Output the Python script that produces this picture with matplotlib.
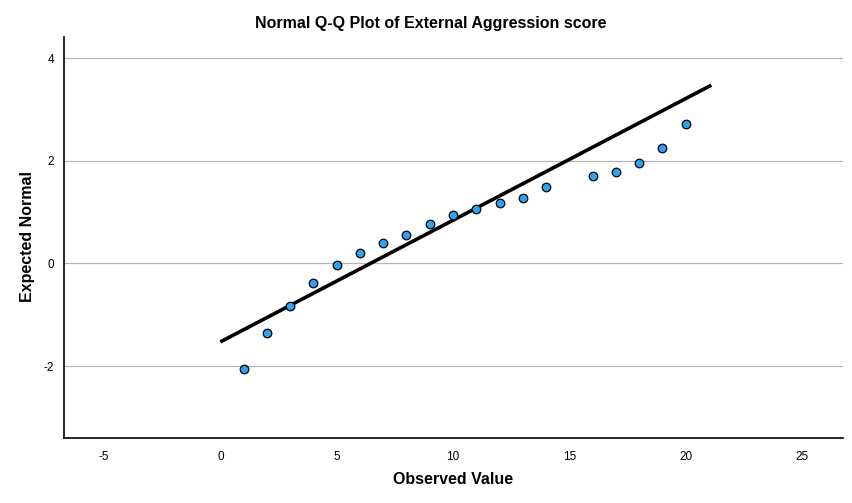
import matplotlib
matplotlib.use("Agg")
import matplotlib.pyplot as plt
import numpy as np

plt.rcParams['font.family'] = ['Liberation Sans', 'DejaVu Sans']
plt.rcParams['axes.unicode_minus'] = False

observed = [1, 2, 3, 4, 5, 6, 7, 8, 9, 10, 11, 12, 13, 14, 16, 17, 18, 19, 20]
expected = [-2.065, -1.364, -0.826, -0.384, -0.033, 0.207, 0.396, 0.551, 0.76,
            0.947, 1.052, 1.169, 1.278, 1.48, 1.70, 1.79, 1.96, 2.25, 2.72]
line_x = [0, 21.1]
line_mean = 6.45
line_sd = 4.22
x_ticks = [-5, 0, 5, 10, 15, 20, 25]
y_ticks = [-2, 0, 2, 4]

fig = plt.figure(figsize=(8.53, 5.03), dpi=100)
ax = fig.add_axes([64/853, 1-438/503, (843-64)/853, (438-37)/503])

for yt in y_ticks:
    ax.axhline(yt, color='#b4b4b4', lw=0.9, zorder=0)

lx = np.array(line_x)
ax.plot(lx, (lx - line_mean) / line_sd, color='black', lw=2.6, zorder=2,
        solid_capstyle='butt')
ax.scatter(observed, expected, s=38, facecolor='#2ea3f2', edgecolor='black',
           linewidth=0.9, zorder=3)

ax.set_xlim(-6.72, 26.76)
ax.set_ylim(-3.40, 4.41)
ax.set_xticks(x_ticks)
ax.set_yticks(y_ticks)
ax.tick_params(length=0, labelsize=8.5, colors='black')
ax.tick_params(axis='x', pad=9)
ax.tick_params(axis='y', pad=7)
for s in ['top', 'right']:
    ax.spines[s].set_visible(False)
for s in ['left', 'bottom']:
    ax.spines[s].set_linewidth(1.2)

fig.text(431/853, 1-24/503, 'Normal Q-Q Plot of External Aggression score',
         ha='center', va='center', fontsize=11.5, fontweight='bold')
fig.text(453/853, 1-479/503, 'Observed Value', ha='center', va='center',
         fontsize=11.5, fontweight='bold')
fig.text(28/853, 1-237/503, 'Expected Normal', ha='center', va='center',
         rotation=90, fontsize=11.5, fontweight='bold')

fig.savefig('out.png', dpi=100, facecolor='white')
